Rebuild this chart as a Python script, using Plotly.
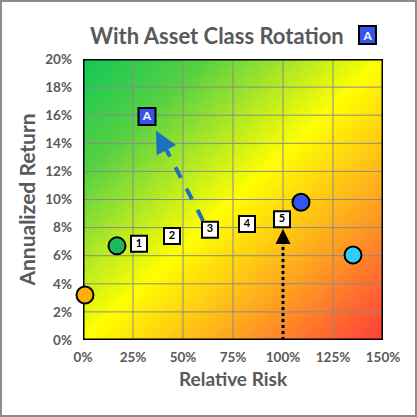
import plotly.graph_objects as go

# axis setup
x_ticks = [0, 25, 50, 75, 100, 125, 150]
y_ticks = [0, 2, 4, 6, 8, 10, 12, 14, 16, 18, 20]

# circles (benchmark assets)
circle_x = [1, 17, 109, 135]
circle_y = [3.2, 6.7, 9.8, 6.05]
circle_colors = ["#ffb000", "#1fb85a", "#3355ee", "#33ccf5"]

# numbered portfolios
square_labels = ["1", "2", "3", "4", "5"]
square_x = [28, 44.5, 63.5, 82, 99.5]
square_y = [6.85, 7.4, 7.85, 8.25, 8.6]

# asset class rotation point
rot_x = [32]
rot_y = [15.9]

# arrows: (x0, y0) -> (x1, y1)
blue_arrow = [60, 8.5, 36.5, 14.9]
black_arrow = [100, 0, 100, 7.9]

# background gradient corners (top-left green -> bottom-right red)
bg_z = [[0.5, 1.0], [0.0, 0.5]]

font_name = "Lato"
gray = "#595959"

fig = go.Figure()

# Gradient background
fig.add_trace(go.Heatmap(
    x=[x_ticks[0], x_ticks[-1]], y=[y_ticks[0], y_ticks[-1]], z=bg_z,
    zsmooth="best", showscale=False, hoverinfo="skip",
    zmin=0, zmax=1,
    colorscale=[[0, "#10c858"], [0.2, "#55d042"], [0.32, "#98e22e"], [0.5, "#ffff00"],
                [0.75, "#ffa020"], [1, "#ff3c3c"]],
))

# Grid lines
gx, gy = [], []
for t in x_ticks[1:-1]:
    gx += [t, t, None]
    gy += [y_ticks[0], y_ticks[-1], None]
for t in y_ticks[1:-1]:
    gx += [x_ticks[0], x_ticks[-1], None]
    gy += [t, t, None]
fig.add_trace(go.Scatter(x=gx, y=gy, mode="lines", line=dict(color="#8a8a8a", width=1),
                         hoverinfo="skip", showlegend=False))

# Plot border
fig.add_trace(go.Scatter(
    x=[x_ticks[0], x_ticks[-1], x_ticks[-1], x_ticks[0], x_ticks[0]],
    y=[y_ticks[0], y_ticks[0], y_ticks[-1], y_ticks[-1], y_ticks[0]],
    mode="lines", line=dict(color="black", width=3), hoverinfo="skip", showlegend=False,
    cliponaxis=False))

# Dashed blue arrow line
fig.add_trace(go.Scatter(x=[blue_arrow[0], 39.3], y=[blue_arrow[1], 14.2], mode="lines",
                         line=dict(color="#1f6fbf", width=4, dash="dash"), showlegend=False))
# Dotted black arrow line
fig.add_trace(go.Scatter(x=[black_arrow[0], black_arrow[2]], y=[black_arrow[1], 7.3], mode="lines",
                         line=dict(color="black", width=3, dash="dot"), showlegend=False,
                         cliponaxis=False))

# Circles
fig.add_trace(go.Scatter(x=circle_x, y=circle_y, mode="markers", cliponaxis=False,
                         marker=dict(size=17, color=circle_colors, line=dict(color="black", width=2)),
                         showlegend=False))

# Numbered squares
fig.add_trace(go.Scatter(x=square_x, y=square_y, mode="markers+text", text=square_labels,
                         textposition="middle center",
                         textfont=dict(family=font_name, size=11, color="black", weight="bold"),
                         marker=dict(symbol="square", size=16, color="white",
                                     line=dict(color="black", width=2)),
                         showlegend=False))

# Rotation square
fig.add_trace(go.Scatter(x=rot_x, y=rot_y, mode="markers+text", text=["A"],
                         textposition="middle center",
                         textfont=dict(family=font_name, size=12, color="white", weight="bold"),
                         marker=dict(symbol="square", size=17, color="#3355ee",
                                     line=dict(color="black", width=2)),
                         showlegend=False))

# Arrowheads
fig.add_annotation(x=blue_arrow[2], y=blue_arrow[3], ax=41, ay=13.7,
                   xref="x", yref="y", axref="x", ayref="y", text="", showarrow=True,
                   arrowhead=2, arrowsize=1.1, arrowwidth=4, arrowcolor="#1f6fbf")
fig.add_annotation(x=black_arrow[2], y=black_arrow[3], ax=black_arrow[2], ay=6.8,
                   xref="x", yref="y", axref="x", ayref="y", text="", showarrow=True,
                   arrowhead=2, arrowsize=1, arrowwidth=3, arrowcolor="black")

# Title
fig.add_annotation(x=0.445, y=1.0, xref="paper", yref="paper", yshift=24, yanchor="middle",
                   text="With Asset Class Rotation", showarrow=False,
                   font=dict(family=font_name, size=22, color=gray, weight="bold"))
fig.add_annotation(x=0.947, y=1.0, xref="paper", yref="paper", yshift=24,
                   xanchor="center", yanchor="middle",
                   text="A", showarrow=False, bgcolor="#3355ee", bordercolor="black",
                   borderwidth=2, borderpad=1, width=13, height=14,
                   font=dict(family=font_name, size=12, color="white", weight="bold"))

axis_font = dict(family=font_name, size=13.5, color=gray, weight="bold")
fig.update_xaxes(range=[x_ticks[0], x_ticks[-1]], tickvals=x_ticks,
                 ticktext=[f"{t}%" for t in x_ticks], showgrid=False, zeroline=False,
                 tickfont=axis_font, ticks="", ticklabelstandoff=7,
                 title=dict(text="Relative Risk", standoff=9,
                            font=dict(family=font_name, size=19, color=gray, weight="bold")))
fig.update_yaxes(range=[y_ticks[0], y_ticks[-1]], tickvals=y_ticks,
                 ticktext=[f"{t}%" for t in y_ticks], showgrid=False, zeroline=False,
                 tickfont=axis_font, ticks="", ticklabelstandoff=10,
                 title=dict(text="Annualized Return", standoff=3,
                            font=dict(family=font_name, size=21, color=gray, weight="bold")))

# Outer frame of the chart
ml, mr, mt, mb = 83, 34, 59, 77
pw, ph = 417 - ml - mr, 417 - mt - mb
fig.add_shape(type="rect", xref="paper", yref="paper",
              x0=-(ml - 1) / pw, x1=1 + (mr - 1) / pw, y0=-(mb - 1) / ph, y1=1 + (mt - 1) / ph,
              line=dict(color="#8c8c8c", width=2), layer="above")

fig.update_layout(width=417, height=417, margin=dict(l=ml, r=mr, t=mt, b=mb),
                  plot_bgcolor="white", paper_bgcolor="white", showlegend=False)

fig.write_html("out.html", config={"displayModeBar": False},
               post_script="document.body.style.margin='0';")
